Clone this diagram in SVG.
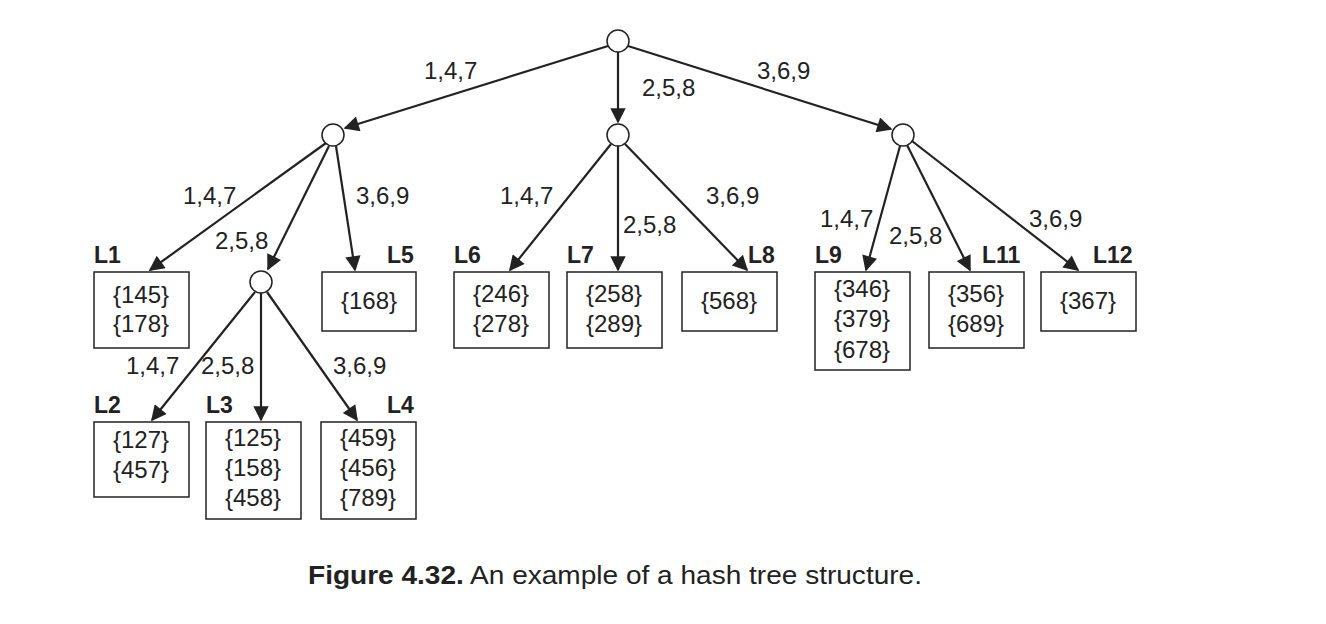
<svg xmlns="http://www.w3.org/2000/svg" width="1326" height="624" viewBox="0 0 1326 624">
<style>
text{font-family:"Liberation Sans",Arial,sans-serif;fill:#222}
.e{font-size:24px}
.b{font-size:23px;font-weight:bold}
.s{font-size:24px;text-anchor:middle}
rect{fill:#fff;stroke:#222;stroke-width:1.5}
circle{fill:#fff;stroke:#222;stroke-width:1.5}
#edges line{stroke:#222;stroke-width:2.2;marker-end:url(#a)}
</style>
<defs><marker id="a" viewBox="0 0 10 10" refX="9" refY="5" markerWidth="8" markerHeight="7" markerUnits="strokeWidth" orient="auto"><path d="M0,0 L10,5 L0,10 z" fill="#222"/></marker></defs>
<rect x="0" y="0" width="1326" height="624" style="fill:#fff;stroke:none"/>
<g id="edges">
<line x1="608" y1="46" x2="345" y2="128"/>
<line x1="618" y1="52" x2="618" y2="122"/>
<line x1="628" y1="46" x2="891" y2="129"/>
<line x1="326" y1="143" x2="150" y2="270"/>
<line x1="329" y1="146" x2="268" y2="269"/>
<line x1="336" y1="146" x2="355" y2="270"/>
<line x1="255" y1="292" x2="152" y2="420"/>
<line x1="261" y1="293" x2="261" y2="420"/>
<line x1="267" y1="292" x2="357" y2="420"/>
<line x1="611" y1="144" x2="510" y2="270"/>
<line x1="618" y1="146" x2="618" y2="270"/>
<line x1="625" y1="144" x2="747" y2="270"/>
<line x1="900" y1="146" x2="866" y2="270"/>
<line x1="907" y1="145" x2="970" y2="270"/>
<line x1="912" y1="141" x2="1078" y2="270"/>
<text class="e" x="424" y="79">1,4,7</text>
<text class="e" x="642" y="96">2,5,8</text>
<text class="e" x="757" y="79">3,6,9</text>
<text class="e" x="183" y="204">1,4,7</text>
<text class="e" x="215" y="249">2,5,8</text>
<text class="e" x="356" y="204">3,6,9</text>
<text class="e" x="126" y="374">1,4,7</text>
<text class="e" x="201" y="374">2,5,8</text>
<text class="e" x="333" y="374">3,6,9</text>
<text class="e" x="500" y="204">1,4,7</text>
<text class="e" x="623" y="233">2,5,8</text>
<text class="e" x="706" y="204">3,6,9</text>
<text class="e" x="820" y="227">1,4,7</text>
<text class="e" x="889" y="244">2,5,8</text>
<text class="e" x="1029" y="227">3,6,9</text>
</g>
<g id="root"><circle cx="618" cy="41" r="11"/></g>
<g id="n1"><circle cx="333" cy="135" r="11"/></g>
<g id="n2"><circle cx="618" cy="135" r="11"/></g>
<g id="n3"><circle cx="903" cy="135" r="11"/></g>
<g id="n4"><circle cx="261" cy="282" r="11"/></g>
<g id="L1"><text class="b" x="94" y="263">L1</text><rect x="94" y="272" width="95" height="76"/><text class="s" x="141" y="303">{145}</text><text class="s" x="141" y="332">{178}</text></g>
<g id="L5"><text class="b" x="387" y="263">L5</text><rect x="322" y="272" width="94" height="59"/><text class="s" x="369" y="309">{168}</text></g>
<g id="L2"><text class="b" x="94" y="413">L2</text><rect x="94" y="422" width="95" height="75"/><text class="s" x="141" y="448">{127}</text><text class="s" x="141" y="478">{457}</text></g>
<g id="L3"><text class="b" x="206" y="413">L3</text><rect x="206" y="422" width="95" height="97"/><text class="s" x="253" y="446">{125}</text><text class="s" x="253" y="476">{158}</text><text class="s" x="253" y="506">{458}</text></g>
<g id="L4"><text class="b" x="387" y="413">L4</text><rect x="321" y="422" width="95" height="97"/><text class="s" x="368" y="446">{459}</text><text class="s" x="368" y="476">{456}</text><text class="s" x="368" y="506">{789}</text></g>
<g id="L6"><text class="b" x="454" y="263">L6</text><rect x="454" y="272" width="95" height="76"/><text class="s" x="501" y="302">{246}</text><text class="s" x="501" y="332">{278}</text></g>
<g id="L7"><text class="b" x="567" y="263">L7</text><rect x="567" y="272" width="95" height="76"/><text class="s" x="614" y="302">{258}</text><text class="s" x="614" y="332">{289}</text></g>
<g id="L8"><text class="b" x="748" y="263">L8</text><rect x="682" y="272" width="95" height="59"/><text class="s" x="729" y="309">{568}</text></g>
<g id="L9"><text class="b" x="815" y="263">L9</text><rect x="815" y="272" width="95" height="98"/><text class="s" x="862" y="297">{346}</text><text class="s" x="862" y="327">{379}</text><text class="s" x="862" y="358">{678}</text></g>
<g id="L11"><text class="b" x="982" y="263">L11</text><rect x="929" y="272" width="95" height="76"/><text class="s" x="976" y="302">{356}</text><text class="s" x="976" y="332">{689}</text></g>
<g id="L12"><text class="b" x="1093" y="263">L12</text><rect x="1041" y="272" width="95" height="59"/><text class="s" x="1088" y="309">{367}</text></g>
<text x="308" y="584" textLength="614" lengthAdjust="spacingAndGlyphs" style="font-size:26px"><tspan font-weight="bold">Figure 4.32.</tspan> An example of a hash tree structure.</text>
</svg>
